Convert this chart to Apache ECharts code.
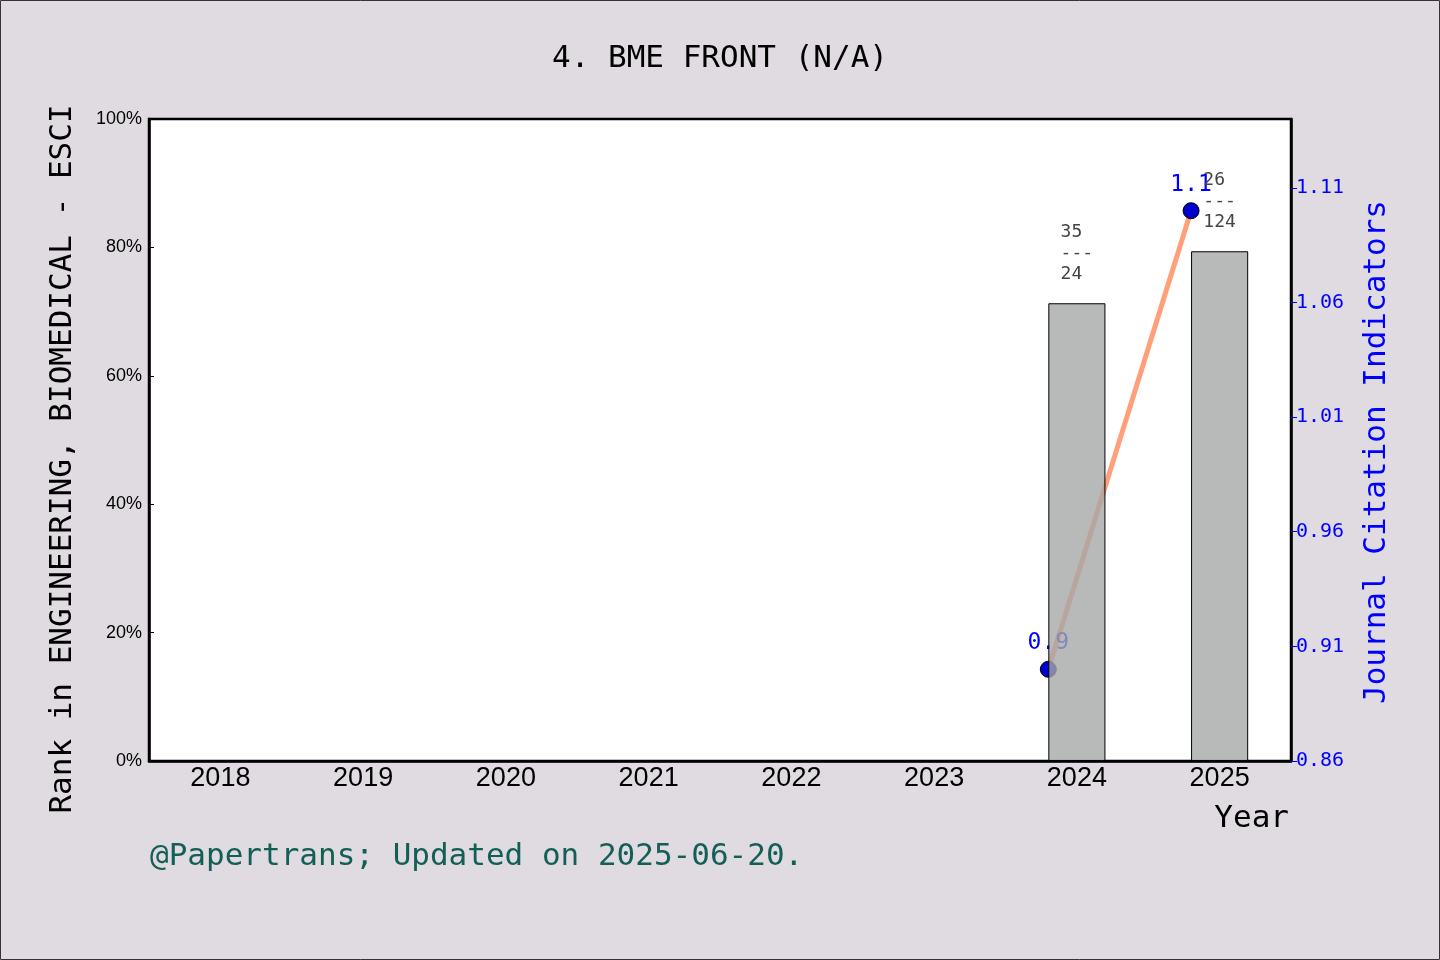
<!DOCTYPE html>
<html>
<head>
<meta charset="utf-8">
<script src="https://cdn.jsdelivr.net/npm/echarts@6/dist/echarts.min.js"></script>
<style>
html,body{margin:0;padding:0;background:#dfdbe0;}
#chart{width:1440px;height:960px;}
</style>
</head>
<body>
<div id="chart"></div>
<script>
// ---- data ----
const years = ['2018','2019','2020','2021','2022','2023','2024','2025'];
const rankPercent = [null, null, null, null, null, null, 71.3, 79.4];
const rankTop = ['', '', '', '', '', '', '35', '26'];
const rankBottom = ['', '', '', '', '', '', '24', '124'];
const jci = [null, null, null, null, null, null, 0.9, 1.1];
const jciTicks = [0.86, 0.91, 0.96, 1.01, 1.06, 1.11];

const MONO = '"DejaVu Sans Mono", "Liberation Mono", monospace';
const SANS = '"Liberation Sans", Arial, sans-serif';
const BAR_HALF = 0.2; // half of bar width in category units (line points sit at bar left edges)

const barData = rankPercent.map((v, i) => v == null ? null : {
  value: v,
  label: { formatter: '{a|' + rankTop[i] + '}\n{a|---}\n{a|' + rankBottom[i] + '}' }
});
const lineData = [];
jci.forEach((v, i) => { if (v != null) lineData.push([i - BAR_HALF, v]); });

const chart = echarts.init(document.getElementById('chart'));
chart.setOption({
  backgroundColor: '#dfdbe0',
  animation: false,
  title: {
    text: '4. BME FRONT (N/A)',
    left: 'center',
    top: 38,
    textStyle: { fontFamily: MONO, fontSize: 31, fontWeight: 'normal', color: '#000' }
  },
  grid: {
    left: 149, right: 149, top: 119, bottom: 199,
    show: true, backgroundColor: '#ffffff', borderColor: '#000', borderWidth: 2.5
  },
  xAxis: [{
    type: 'category',
    data: years,
    boundaryGap: true,
    name: 'Year',
    nameLocation: 'end',
    nameGap: 0,
    nameTextStyle: { fontFamily: MONO, fontSize: 31, color: '#000', align: 'right', verticalAlign: 'top', padding: [42, 2, 0, 0] },
    axisLine: { onZero: false, lineStyle: { color: '#000', width: 2.5 } },
    axisTick: { inside: true, length: 6, lineStyle: { color: '#000', width: 1 } },
    axisLabel: { fontFamily: SANS, fontSize: 27, color: '#000', margin: 4 },
    splitLine: { show: false }
  }, {
    type: 'value',
    min: -0.5, max: 7.5,
    show: false,
    axisLine: { onZero: false }
  }],
  yAxis: [{
    type: 'value',
    min: 0, max: 100, interval: 20,
    name: 'Rank in ENGINEERING, BIOMEDICAL - ESCI',
    nameLocation: 'middle',
    nameGap: 71,
    nameTextStyle: { fontFamily: MONO, fontSize: 31, color: '#000', padding: [0, 38, 0, 0] },
    axisLine: { show: true, onZero: false, lineStyle: { color: '#000', width: 2.5 } },
    axisTick: { show: true, inside: true, length: 5, lineStyle: { color: '#000' } },
    axisLabel: { fontFamily: SANS, fontSize: 18, color: '#000', margin: 7, formatter: '{value}%' },
    splitLine: { show: false }
  }, {
    type: 'value',
    min: 0.86, max: 1.14, interval: 0.05,
    position: 'right',
    name: 'Journal Citation Indicators',
    nameLocation: 'middle',
    nameGap: 70,
    nameRotate: 90,
    nameTextStyle: { fontFamily: MONO, fontSize: 31, color: '#0000ff', padding: [0, 24, 0, 0] },
    axisLine: { show: true, onZero: false, lineStyle: { color: '#000', width: 2.5 } },
    axisTick: { show: true, inside: false, length: 6, lineStyle: { color: '#0000ff' } },
    axisLabel: {
      fontFamily: MONO, fontSize: 20, color: '#0000ff', margin: 5, showMaxLabel: false,
      formatter: v => (jciTicks.some(t => Math.abs(t - v) < 1e-6) ? v.toFixed(2) : '')
    },
    splitLine: { show: false }
  }],
  series: [{
    type: 'line',
    xAxisIndex: 1,
    yAxisIndex: 1,
    z: 1,
    data: lineData,
    lineStyle: { color: '#ffa07a', width: 5 },
    symbol: 'circle',
    symbolSize: 16,
    itemStyle: { color: '#0000cd', borderColor: '#000', borderWidth: 1 },
    label: {
      show: true, position: 'top', distance: 6,
      fontFamily: MONO, fontSize: 23, color: '#0000ff',
      formatter: p => p.value[1].toFixed(1)
    }
  }, {
    type: 'bar',
    xAxisIndex: 0,
    yAxisIndex: 0,
    z: 2,
    data: barData,
    barWidth: '40%',
    itemStyle: { color: 'rgba(166,167,168,0.8)', borderColor: '#000', borderWidth: 1 },
    label: {
      show: true, position: 'top', distance: 18,
      align: 'center',
      fontFamily: MONO, fontSize: 18, color: '#444444', lineHeight: 21,
      rich: { a: { align: 'left', fontFamily: MONO, fontSize: 18, color: '#444444', lineHeight: 21 } }
    }
  }],
  graphic: [{
    type: 'text',
    left: 150,
    top: 841,
    style: { text: '@Papertrans; Updated on 2025-06-20.', font: '31px ' + MONO, fill: '#135e55' }
  }, {
    type: 'rect',
    shape: { x: 0.5, y: 0.5, width: 1439, height: 959 },
    style: { fill: 'none', stroke: '#333', lineWidth: 1 },
    silent: true
  }]
});
</script>
</body>
</html>
